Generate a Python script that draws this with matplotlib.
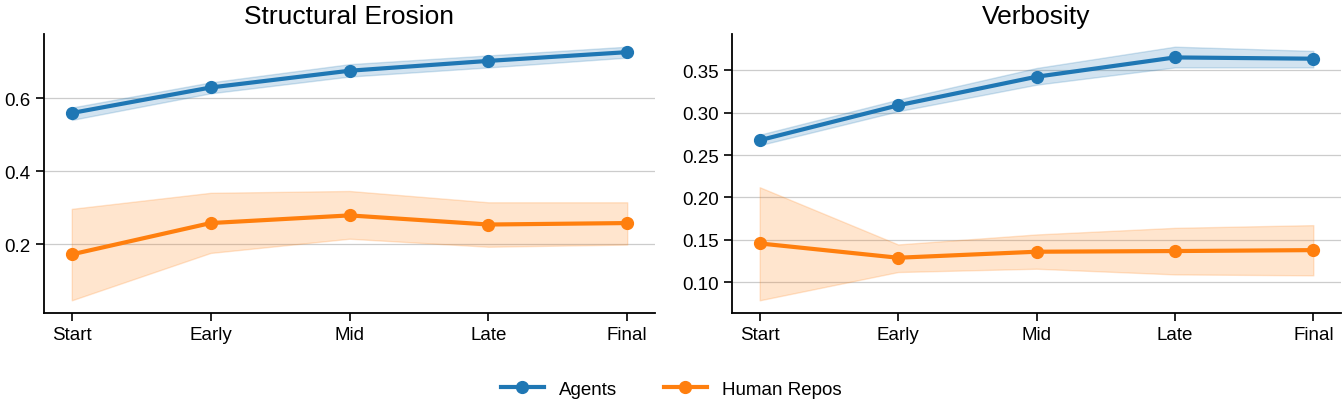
import matplotlib
matplotlib.use("Agg")
import matplotlib.pyplot as plt

plt.rcParams['font.family'] = ['Liberation Sans', 'DejaVu Sans']

stages = ["Start", "Early", "Mid", "Late", "Final"]

# Structural Erosion
se_agents = [0.560, 0.630, 0.676, 0.703, 0.727]
se_agents_lo = [0.541, 0.614, 0.660, 0.685, 0.712]
se_agents_hi = [0.575, 0.644, 0.694, 0.718, 0.742]
se_human = [0.172, 0.258, 0.279, 0.254, 0.258]
se_human_lo = [0.046, 0.176, 0.215, 0.193, 0.199]
se_human_hi = [0.297, 0.341, 0.346, 0.315, 0.315]

# Verbosity
vb_agents = [0.2675, 0.3087, 0.3425, 0.3653, 0.3638]
vb_agents_lo = [0.2616, 0.3017, 0.3331, 0.3535, 0.3535]
vb_agents_hi = [0.2740, 0.3154, 0.3528, 0.3780, 0.3730]
vb_human = [0.1456, 0.1287, 0.1358, 0.1366, 0.1377]
vb_human_lo = [0.0784, 0.1118, 0.1157, 0.1090, 0.1079]
vb_human_hi = [0.2120, 0.1444, 0.1562, 0.1640, 0.1672]

titles = ["Structural Erosion", "Verbosity"]
yticks = [[0.2, 0.4, 0.6], [0.10, 0.15, 0.20, 0.25, 0.30, 0.35]]
yticklabels = [["0.2", "0.4", "0.6"], ["0.10", "0.15", "0.20", "0.25", "0.30", "0.35"]]

blue = "#1f77b4"
orange = "#ff7f0e"

fig = plt.figure(figsize=(13.42, 4.02), dpi=100)
ax1 = fig.add_axes([44 / 1342, 1 - 314 / 402, 611 / 1342, 279 / 402])
ax2 = fig.add_axes([732 / 1342, 1 - 314 / 402, 609 / 1342, 279 / 402])

panels = [
    (ax1, se_agents, se_agents_lo, se_agents_hi, se_human, se_human_lo, se_human_hi),
    (ax2, vb_agents, vb_agents_lo, vb_agents_hi, vb_human, vb_human_lo, vb_human_hi),
]

x = list(range(len(stages)))
for i, (ax, a, alo, ahi, h, hlo, hhi) in enumerate(panels):
    ax.fill_between(x, alo, ahi, color=blue, alpha=0.2, linewidth=1.0, zorder=2)
    ax.fill_between(x, hlo, hhi, color=orange, alpha=0.2, linewidth=1.0, zorder=2)
    ax.plot(x, a, color=blue, lw=3, marker="o", ms=8.5, label="Agents", zorder=3)
    ax.plot(x, h, color=orange, lw=3, marker="o", ms=8.5, label="Human Repos", zorder=3)
    ax.set_xticks(x)
    ax.set_xticklabels(stages)
    ax.set_yticks(yticks[i])
    ax.set_yticklabels(yticklabels[i])
    ax.set_title(titles[i], fontsize=19, pad=8)
    ax.grid(axis="y", color="#cccccc", lw=0.9, zorder=0)
    ax.set_axisbelow(True)
    for s in ["top", "right"]:
        ax.spines[s].set_visible(False)
    for s in ["left", "bottom"]:
        ax.spines[s].set_linewidth(1.3)
    ax.tick_params(axis="both", labelsize=13.5, length=5.5, width=1.2, pad=4)

handles, labels = ax1.get_legend_handles_labels()
fig.legend(handles, labels, loc="center", bbox_to_anchor=(0.5, 12 / 402 + 0.0),
           ncol=2, frameon=False, fontsize=13.5, handlelength=2.3, columnspacing=2.5)

fig.savefig("out.png", dpi=100)
